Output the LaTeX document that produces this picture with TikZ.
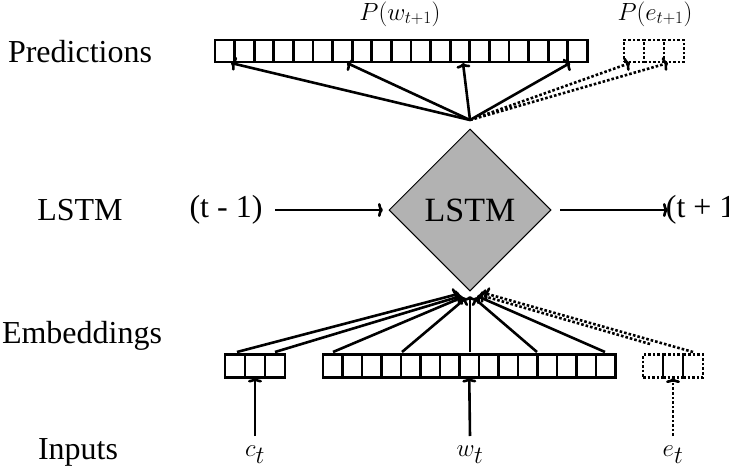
\documentclass[tikz,border=0pt]{standalone}
\usepackage{fontspec}
\setmainfont{Liberation Serif}
\usetikzlibrary{shapes.geometric,arrows.meta}
\begin{document}
\begin{tikzpicture}[x=1pt,y=-1pt,line width=2.6pt,>={To[length=5pt,width=14pt]},
  lab/.style={font=\fontsize{32}{36}\selectfont},
  cell/.style={draw,minimum width=19.5pt,minimum height=22pt,inner sep=0,outer sep=0},
  dcell/.style={cell,dotted},
  arr/.style={->},
  darr/.style={->,dotted}]
\useasboundingbox (0,0) rectangle (729,469);
\node[lab] (lp) at (80,52) {Predictions};
\node[lab] (ll) at (80,210) {LSTM};
\node[lab] (le) at (82,336) {Embeddings};
\node[lab] (li) at (78,452) {Inputs};
\node[font=\fontsize{25}{28}\selectfont] (pw) at (400,14) {$P(w_{t+1})$};
\node[font=\fontsize{25}{28}\selectfont] (pe) at (655,14) {$P(e_{t+1})$};
% prediction cells
\foreach \i in {1,...,19} \node[cell] (p\i) at ({215+9.8+(\i-1)*19.6},51) {};
\foreach \i in {1,2,3} \node[dcell,minimum width=20pt] (q\i) at ({624+10+(\i-1)*20},51) {};
% embedding cells
\foreach \i in {1,2,3} \node[cell,minimum width=20pt,minimum height=23pt] (c\i) at ({225+10+(\i-1)*20},366) {};
\foreach \i in {1,...,15} \node[cell,minimum width=19.5pt,minimum height=23pt] (w\i) at ({323+9.75+(\i-1)*19.5},366) {};
\foreach \i in {1,2,3} \node[dcell,minimum width=20pt,minimum height=23pt] (e\i) at ({643+10+(\i-1)*20},366) {};
% LSTM
\node[diamond,draw,fill=gray!60,line width=1pt,minimum width=162pt,minimum height=162pt,inner sep=0,font=\fontsize{34}{38}\selectfont] (lstm) at (470,210) {LSTM};
\node[lab] (tm) at (226,210) {(t - 1)};
\node[lab] (tp) at (706,210) {(t + 1)};
\coordinate (a1) at (275,210); \coordinate (a2) at (383,210);
\coordinate (b1) at (560,210); \coordinate (b2) at (668,210);
\draw[arr] (a1) -- (a2);
\draw[arr] (b1) -- (b2);
% predictions fan
\coordinate (top) at (470,120);
\draw[arr] (top) -- (231,63);
\draw[arr] (top) -- (347,63);
\draw[arr] (top) -- (463,63);
\draw[arr] (top) -- (570,63);
\draw[darr] (top) -- (630,63);
\draw[darr] (top) -- (668,63);
% inputs
\node[font=\fontsize{40}{44}\selectfont] (ct) at (255,455) {$c_t$};
\node[font=\fontsize{40}{44}\selectfont] (wt) at (470,455) {$w_t$};
\node[font=\fontsize{40}{44}\selectfont] (et) at (673,455) {$e_t$};
\coordinate (ci) at (255,436); \coordinate (wi) at (470,436); \coordinate (ei) at (673,436);
\draw[arr] (ci) -- (c2.south);
\draw[arr] (wi) -- (w8.south);
\draw[darr] (ei) -- (673,378);
% embeddings fan
\draw[arr] (237,352) -- (458,294);
\draw[arr] (275,352) -- (461,296);
\draw[arr] (333,352) -- (463,297);
\draw[arr] (402,352) -- (466,298);
\draw[arr] (470,352) -- (470,296);
\draw[arr] (537,352) -- (474,298);
\draw[arr] (605,352) -- (477,296);
\draw[darr] (650,344) -- (480,295);
\draw[darr] (693,352) -- (484,293);
\end{tikzpicture}
\end{document}
